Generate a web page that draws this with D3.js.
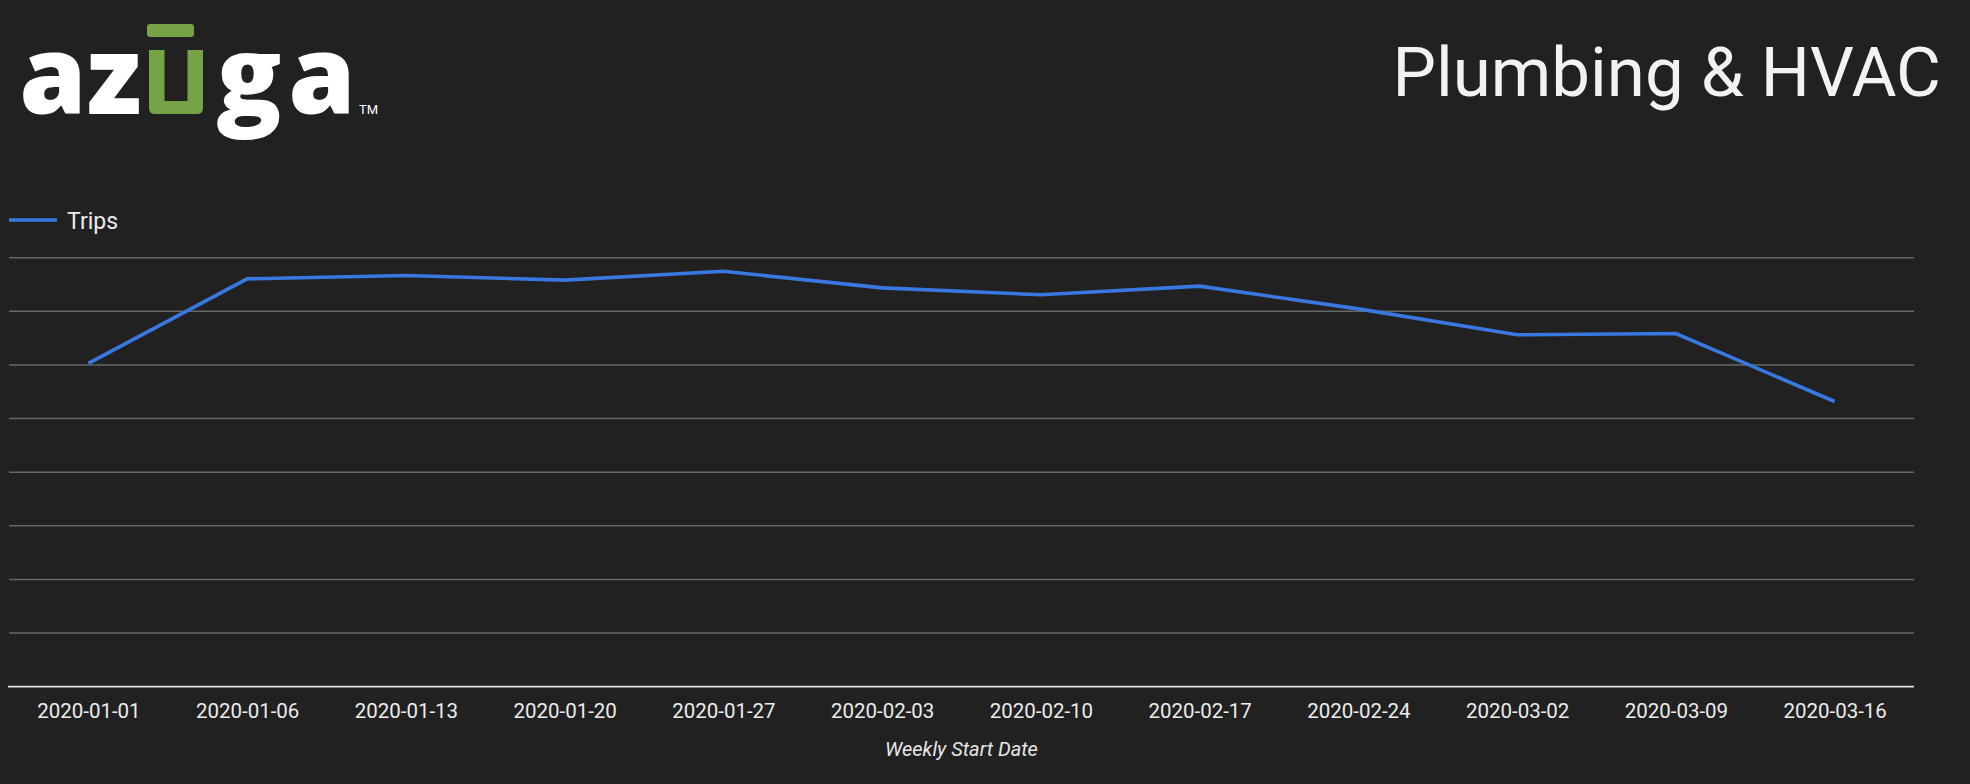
<!DOCTYPE html>
<html>
<head>
<meta charset="utf-8">
<script src="https://cdn.jsdelivr.net/npm/d3@7/dist/d3.min.js"></script>
<style>
  html, body { margin: 0; padding: 0; background: #212121; }
  svg { display: block; }
</style>
</head>
<body>
<svg id="chart" width="1970" height="784"></svg>
<script>
// ---- data ----
const weeks = ["2020-01-01","2020-01-06","2020-01-13","2020-01-20","2020-01-27","2020-02-03",
               "2020-02-10","2020-02-17","2020-02-24","2020-03-02","2020-03-09","2020-03-16"];
const trips = [30150, 38030, 38340, 37910, 38730, 37190, 36540, 37350, 35230, 32810, 32930, 26590];
const yTicks = [5000, 10000, 15000, 20000, 25000, 30000, 35000, 40000];
const seriesName = "Trips";
const chartTitle = "Plumbing & HVAC";
const xTitle = "Weekly Start Date";

(function () {
// ---- layout ----
const W = 1970, H = 784;
const pLeft = 9, pRight = 1914, pTop = 257.7, pBottom = 686.7;

const svg = d3.select("#chart");
svg.append("rect").attr("width", W).attr("height", H).attr("fill", "#212121");

const x = d3.scalePoint().domain(weeks).range([pLeft, pRight]).padding(0.5);
const y = d3.scaleLinear().domain([0, 40000]).range([pBottom, pTop]);

// gridlines
svg.append("g").selectAll("line").data(yTicks).join("line")
  .attr("x1", pLeft).attr("x2", pRight)
  .attr("y1", d => y(d)).attr("y2", d => y(d))
  .attr("stroke", "#676767").attr("stroke-width", 1.5);

// x axis
const xAxis = d3.axisBottom(x).tickSize(0).tickPadding(0);
const gx = svg.append("g").attr("transform", `translate(0,${pBottom})`).call(xAxis);
gx.select(".domain").attr("d", `M${pLeft - 1},0H${pRight}`).attr("stroke", "#e0e0e0").attr("stroke-width", 1.8);
gx.selectAll("text")
  .attr("y", 31.5).attr("dy", null)
  .attr("fill", "#ececec")
  .style("font-family", "Roboto, sans-serif")
  .style("font-size", "20.5px");

// x title
svg.append("text").attr("x", (pLeft + pRight) / 2).attr("y", 756)
  .attr("text-anchor", "middle").attr("fill", "#e6e6e6")
  .style("font-family", "Roboto, sans-serif").style("font-style", "italic").style("font-size", "20px")
  .text(xTitle);

// line
const line = d3.line().x((d, i) => x(weeks[i])).y(d => y(d));
svg.append("path").datum(trips).attr("d", line)
  .attr("fill", "none").attr("stroke", "#3878e0").attr("stroke-width", 3.6)
  .attr("stroke-linejoin", "miter");

// legend
svg.append("line").attr("x1", 9).attr("x2", 57).attr("y1", 220).attr("y2", 220)
  .attr("stroke", "#3878e0").attr("stroke-width", 3.6);
svg.append("text").attr("x", 67).attr("y", 229).attr("fill", "#ececec")
  .style("font-family", "Roboto, sans-serif").style("font-size", "23px")
  .text(seriesName);

// title
svg.append("text").attr("x", 1941).attr("y", 96).attr("text-anchor", "end")
  .attr("fill", "#f2f2f2")
  .style("font-family", "Roboto, sans-serif").style("font-size", "69px")
  .text(chartTitle);

// logo
const logo = svg.append("g");
const letters = [["a", 53], ["z", 114], ["g", 249], ["a", 322]];
letters.forEach(([ch, cx]) => {
  logo.append("text").attr("x", cx).attr("y", 114).attr("text-anchor", "middle")
    .attr("fill", "#ffffff")
    .style("font-family", "'Open Sans', sans-serif")
    .style("font-weight", 800)
    .style("font-size", "108px")
    .text(ch);
});
// green u
const green = "#77a347";
logo.append("rect").attr("x", 147).attr("y", 24).attr("width", 47).attr("height", 13)
  .attr("rx", 3).attr("fill", green);
const ux0 = 149, ux1 = 203, uy0 = 50, uy1 = 114, st = 15.5, sb = 13, r = 6;
const up = d3.path();
up.moveTo(ux0, uy0);
up.lineTo(ux0 + st, uy0);
up.lineTo(ux0 + st, uy1 - sb);
up.lineTo(ux1 - st, uy1 - sb);
up.lineTo(ux1 - st, uy0);
up.lineTo(ux1, uy0);
up.lineTo(ux1, uy1 - r);
up.quadraticCurveTo(ux1, uy1, ux1 - r, uy1);
up.lineTo(ux0 + r, uy1);
up.quadraticCurveTo(ux0, uy1, ux0, uy1 - r);
up.closePath();
logo.append("path").attr("d", up.toString()).attr("fill", green);
logo.append("text").attr("x", 359).attr("y", 114).attr("fill", "#ffffff")
  .style("font-family", "Roboto, sans-serif").style("font-size", "13px").text("TM");
})();
</script>
</body>
</html>
